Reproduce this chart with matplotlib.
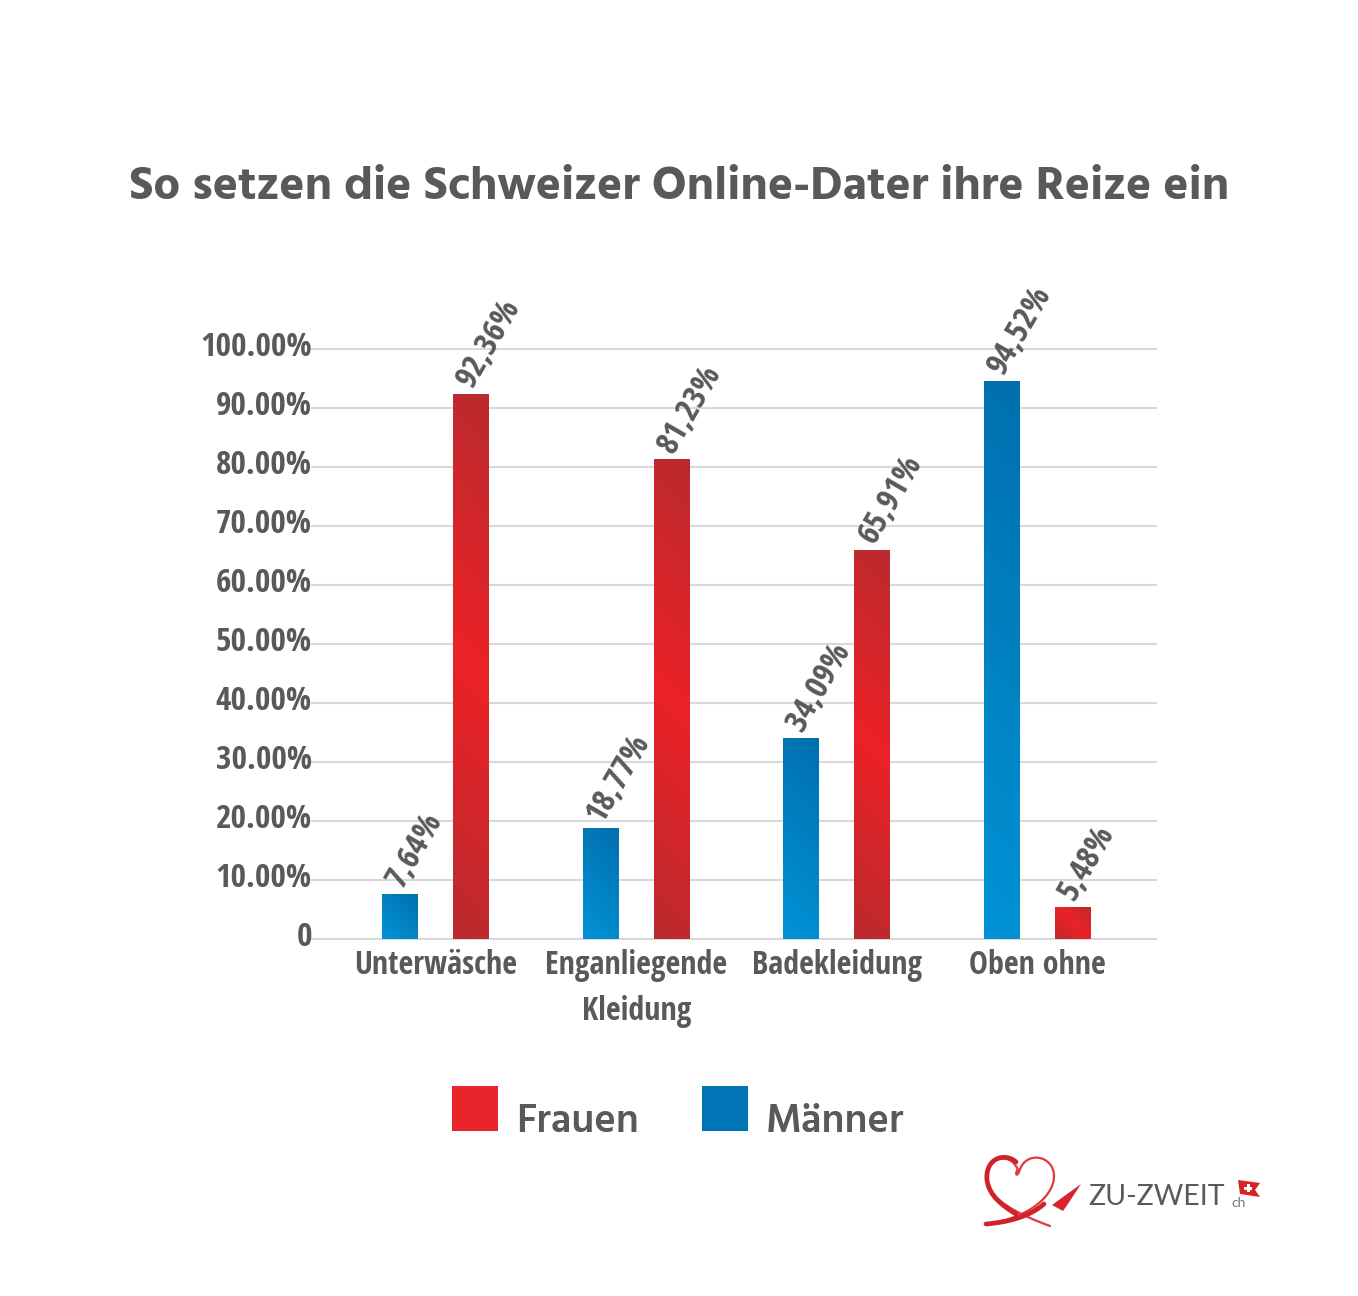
import numpy as np
import matplotlib.pyplot as plt
from matplotlib.colors import LinearSegmentedColormap
from matplotlib.patches import Rectangle, PathPatch, Polygon
from matplotlib.path import Path
from matplotlib.transforms import ScaledTranslation

categories = ["Unterwäsche", "Enganliegende\nKleidung", "Badekleidung", "Oben ohne"]
maenner = [7.64, 18.77, 34.09, 94.52]
frauen = [92.36, 81.23, 65.91, 5.48]
maenner_labels = ["7,64%", "18,77%", "34,09%", "94,52%"]
frauen_labels = ["92,36%", "81,23%", "65,91%", "5,48%"]
y_ticks = [0, 10, 20, 30, 40, 50, 60, 70, 80, 90, 100]
y_tick_labels = ["0"] + [f"{v}.00%" for v in y_ticks[1:]]

W, H = 1358, 1296
GREY = "#58595b"
NARROW = ["Open Sans Condensed", "PT Sans Narrow", "Open Sans"]
WIDE = ["Hind", "PT Sans", "Open Sans"]
PX_Y = (939 - 348.5) / 100  # pixels per percent
PX_X = 200.6  # pixels per category

fig = plt.figure(figsize=(W / 100, H / 100), dpi=100, facecolor="white")
ax = fig.add_axes([312 / W, 1 - 939 / H, 844 / W, (939 - 348.5) / H])

blue_cmap = LinearSegmentedColormap.from_list("blue", ["#0093d6", "#006fae"])
red_cmap = LinearSegmentedColormap.from_list("red", ["#b92a2e", "#ec2227", "#b92a2e"])


def gradient_bar(x, height, width, cmap):
    # corner to corner gradient, clipped to the real bar
    bar = ax.bar(x, height, width, color="none", edgecolor="none", zorder=3)[0]
    xx, yy = np.meshgrid(np.linspace(0, 1, 40), np.linspace(0, 1, 200))
    h, w = height * PX_Y, width * PX_X
    g = (yy * h + xx * w) / (h + w)
    im = ax.imshow(g, extent=[x - width / 2, x + width / 2, 0, height], origin="lower",
                   cmap=cmap, vmin=0, vmax=1, aspect="auto", zorder=3)
    im.set_clip_path(bar)


def value_label(x, height, label):
    ax.text(x - 0.027, height + 1.5, label, rotation=60, rotation_mode="anchor", ha="left", va="center",
            fontsize=24, fontweight="bold", family=NARROW, color=GREY, zorder=4)


bar_w = 0.178
pos = np.arange(len(categories))
for i in pos:
    gradient_bar(i - 0.18, maenner[i], bar_w, blue_cmap)
    gradient_bar(i + 0.174, frauen[i], bar_w, red_cmap)
    value_label(i - 0.18, maenner[i], maenner_labels[i])
    value_label(i + 0.174, frauen[i], frauen_labels[i])

ax.set_xlim(-0.618, 3.59)
ax.set_ylim(0, 100)
ax.set_xticks(pos)
ax.set_xticklabels(categories, fontsize=23, fontweight="bold", family=NARROW, color=GREY, linespacing=1.55)
ax.set_yticks(y_ticks)
ax.set_yticklabels(y_tick_labels, fontsize=24, fontweight="bold", family=NARROW, color=GREY)
ax.tick_params(length=0, pad=0)
ax.tick_params(axis="x", pad=7)
ax.grid(axis="y", color="#d9d9d9", lw=1.5, zorder=0, clip_on=False)
ax.set_axisbelow(True)
for s in ax.spines.values():
    s.set_visible(False)
# tick labels sit a little above their grid lines
up = ScaledTranslation(0, 5 / 100, fig.dpi_scale_trans)
for lab in ax.get_yticklabels():
    lab.set_transform(lab.get_transform() + up)

fig.text(679 / W, 1 - 187 / H, "So setzen die Schweizer Online-Dater ihre Reize ein", ha="center", va="center",
         fontsize=34.2, fontweight="bold", family=WIDE, color=GREY)

# legend and logo sit on an overlay in pixel coordinates
lax = fig.add_axes([0, 0, 1, 1], facecolor="none")
lax.set_xlim(0, W)
lax.set_ylim(H, 0)
lax.axis("off")
lax.add_patch(Rectangle((452, 1086), 46, 45, color="#e9242a", lw=0))
lax.add_patch(Rectangle((702, 1086), 46, 45, color="#0075b5", lw=0))
lax.text(516, 1121, "Frauen", fontsize=29.3, fontweight="semibold", family=WIDE, color=GREY, va="center", ha="left")
lax.text(766, 1121, "Männer", fontsize=29.3, fontweight="semibold", family=WIDE, color=GREY, va="center", ha="left")

heart = Path([(986, 1224), (1030, 1218), (1055, 1195), (1054, 1175), (1053, 1155), (1025, 1150), (1019, 1172),
              (1016, 1178), (1015, 1172), (1018, 1170), (1010, 1150), (985, 1158), (986, 1178),
              (988, 1200), (1020, 1215), (1050, 1226)],
             [1, 4, 4, 4, 4, 4, 4, 4, 4, 4, 4, 4, 4, 4, 4, 4])
lax.add_patch(PathPatch(heart, fc="none", ec="#e0383d", lw=1.6, capstyle="round"))
left_lobe = Path([(1016, 1162), (1005, 1152), (985, 1158), (987, 1180), (989, 1196), (1003, 1206), (1016, 1214)],
                 [1, 4, 4, 4, 4, 4, 4])
lax.add_patch(PathPatch(left_lobe, fc="none", ec="#cf2229", lw=3.4, capstyle="round"))
tail = Path([(986, 1224), (1010, 1222), (1030, 1216), (1044, 1204)], [1, 4, 4, 4])
lax.add_patch(PathPatch(tail, fc="none", ec="#cf2229", lw=3.4, capstyle="round"))
lax.add_patch(Polygon([(1081, 1184), (1052, 1205), (1063, 1211)], color="#d8232a", lw=0))
lax.add_patch(Polygon([(1081, 1184), (1063, 1211), (1068, 1204)], color="#a81c22", lw=0))
lax.text(1088, 1197, "ZU-ZWEIT", fontsize=20.5, family="Lato", fontweight="normal", color="#5a5a5a", va="center", ha="left")
lax.text(1231, 1203, "ch", fontsize=10, family="Lato", color="#777777", va="center", ha="left")
lax.add_patch(Polygon([(1238, 1180), (1260, 1183), (1255, 1190), (1260, 1197), (1240, 1194)], color="#d8232a", lw=0))
lax.add_patch(Rectangle((1246.5, 1184), 3, 8, color="white", lw=0))
lax.add_patch(Rectangle((1244, 1186.5), 8, 3, color="white", lw=0))

fig.savefig("out.png", dpi=100)
